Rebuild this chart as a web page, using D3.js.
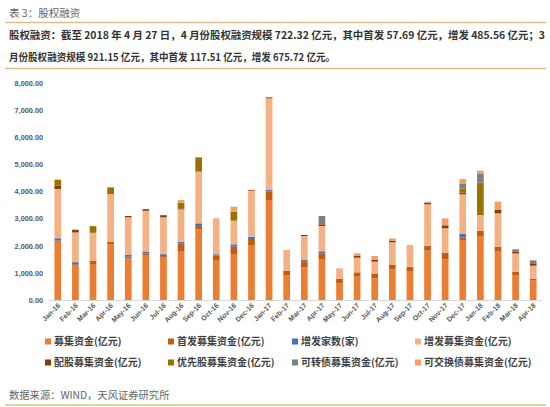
<!DOCTYPE html>
<html><head><meta charset="utf-8">
<script src="https://cdn.jsdelivr.net/npm/d3@7"></script>
<style>
html,body{margin:0;padding:0;background:#fff;}
svg{display:block;}
</style></head>
<body>
<svg id="c" width="550" height="407"></svg>
<script>
const months = ["Jan-16","Feb-16","Mar-16","Apr-16","May-16","Jun-16","Jul-16","Aug-16","Sep-16","Oct-16","Nov-16","Dec-16",
  "Jan-17","Feb-17","Mar-17","Apr-17","May-17","Jun-17","Jul-17","Aug-17","Sep-17","Oct-17","Nov-17","Dec-17",
  "Jan-18","Feb-18","Mar-18","Apr-18"];
const raise       = [2150,1290,1327,2065,1537,1659,1560,1807,2606,1475,1696,2003,3687,910,1205,1512,615,860,799,1130,1045,1818,1500,2212,2360,1782,921,722];
const ipo         = [40,30,120,85,60,50,60,283,120,160,270,209,307,165,209,209,172,160,160,160,184,172,246,86,184,184,118,58];
const addCount    = [85,75,0,0,80,80,70,60,100,50,86,123,60,0,60,74,0,0,0,0,0,0,0,135,0,0,0,0];
const addRaise    = [1820,1095,1030,1757,1370,1500,1360,1192,1905,1327,873,1696,3380,770,885,934,381,541,455,836,799,1536,897,1462,590,1229,676,486];
const rights      = [120,100,0,0,50,60,75,37,0,0,0,30,37,0,37,61,0,61,61,61,0,61,110,61,0,123,77,86];
const preferred   = [220,0,245,245,0,0,0,210,528,0,332,0,0,0,0,0,0,0,0,0,0,0,0,160,1192,0,0,0];
const convertible = [0,0,0,0,0,0,0,0,0,0,0,0,0,0,0,307,0,0,0,0,0,0,0,160,344,0,76,110];
const exchangeable= [0,0,0,0,0,0,0,100,0,0,184,0,0,0,0,0,0,98,147,86,0,37,258,184,98,307,0,0];
const seriesNames = ["募集资金(亿元)","首发募集资金(亿元)","增发家数(家)","增发募集资金(亿元)","配股募集资金(亿元)","优先股募集资金(亿元)","可转债募集资金(亿元)","可交换债募集资金(亿元)"];
const seriesColors = ["#ED7D31","#C55A11","#4472C4","#F4B183","#843C0C","#997300","#7F7F7F","#F2A065"];
const yTicks = [0,1000,2000,3000,4000,5000,6000,7000,8000];

const seriesValues = [raise,ipo,addCount,addRaise,rights,preferred,convertible,exchangeable];
const keys = seriesNames;
const table = months.map((m,i)=>{const o={month:m}; keys.forEach((k,j)=>o[k]=seriesValues[j][i]); return o;});
const stack = d3.stack().keys(keys)(table);

const svg = d3.select("#c");
const tan = "#DDBF8C";

// header
svg.append("text").attr("x",9).attr("y",16.5).attr("font-family","'Noto Sans CJK SC'").attr("font-size",10.5).attr("fill","#666").text("表 3：股权融资");
svg.append("line").attr("x1",5).attr("x2",546).attr("y1",22.5).attr("y2",22.5).attr("stroke",tan).attr("stroke-width",1.5);
svg.append("text").attr("x",9).attr("y",38.5).attr("font-family","'Noto Sans CJK SC'").attr("font-weight","bold").attr("font-size",10.2).attr("fill","#333")
  .attr("textLength",536).attr("lengthAdjust","spacingAndGlyphs")
  .text("股权融资：截至 2018 年 4 月 27 日，4 月份股权融资规模 722.32 亿元，其中首发 57.69 亿元，增发 485.56 亿元；3");
svg.append("text").attr("x",9).attr("y",60.5).attr("font-family","'Noto Sans CJK SC'").attr("font-weight","bold").attr("font-size",10.2).attr("fill","#333")
  .attr("textLength",326).attr("lengthAdjust","spacingAndGlyphs")
  .text("月份股权融资规模 921.15 亿元，其中首发 117.51 亿元，增发 675.72 亿元。");
svg.append("line").attr("x1",5).attr("x2",546).attr("y1",68.5).attr("y2",68.5).attr("stroke",tan).attr("stroke-width",1.5);

// scales
const x = d3.scaleBand().domain(months).range([49,542]).paddingInner(0.62).paddingOuter(0.31);
const y = d3.scaleLinear().domain([0,8000]).range([300,83]);

// bars
const g = svg.append("g");
stack.forEach((s,si)=>{
  g.append("g").attr("fill",seriesColors[si]).selectAll("rect").data(s).join("rect")
    .attr("x",d=>x(d.data.month)).attr("width",x.bandwidth())
    .attr("y",d=>y(d[1])).attr("height",d=>Math.max(0,y(d[0])-y(d[1])));
});

// y axis
const yAxis = d3.axisLeft(y).tickValues(yTicks).tickSize(0).tickPadding(0).tickFormat(d3.format(",.2f"));
const ya = svg.append("g").attr("transform","translate(43,0)").call(yAxis);
ya.select(".domain").remove();
ya.selectAll("text").attr("font-family","'Liberation Sans',Arial").attr("font-weight","bold").attr("font-size",7.3).attr("fill","#595959");

// x axis
const xAxis = d3.axisBottom(x).tickSize(0).tickPadding(0);
const xa = svg.append("g").attr("transform","translate(0,300)").call(xAxis);
xa.select(".domain").attr("stroke","#D9D9D9").attr("d","M49,0.5H542");
xa.selectAll("text").attr("font-family","'Liberation Sans',Arial").attr("font-weight","bold").attr("font-size",7).attr("fill","#595959")
  .attr("text-anchor","end").attr("dy",0).attr("y",0)
  .attr("transform","translate(3,6) rotate(-45)");

// legend
const legX = [45,168,292,415];
const legY = [341.5,362.5];
seriesNames.forEach((n,i)=>{
  const col = i%4, row = Math.floor(i/4);
  const lg = svg.append("g").attr("transform",`translate(${legX[col]},${legY[row]})`);
  lg.append("rect").attr("x",0).attr("y",-3).attr("width",6).attr("height",6).attr("fill",seriesColors[i]);
  lg.append("text").attr("x",9).attr("y",3.8).attr("font-family","'Noto Sans CJK SC'").attr("font-weight","bold").attr("font-size",10).attr("fill","#404040").text(n);
});

// source
svg.append("text").attr("x",9).attr("y",398.5).attr("font-family","'Noto Sans CJK SC'").attr("font-size",10.3).attr("fill","#666").text("数据来源：WIND，天风证券研究所");
svg.append("line").attr("x1",5).attr("x2",546).attr("y1",405).attr("y2",405).attr("stroke",tan).attr("stroke-width",1.5);
</script>
</body></html>
